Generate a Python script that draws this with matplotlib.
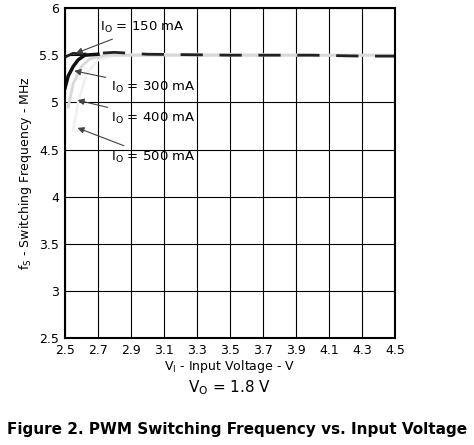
import matplotlib
matplotlib.use("Agg")
import matplotlib.pyplot as plt
import numpy as np

x150 = [2.5, 2.55, 2.6, 2.8, 3.0, 3.5, 4.0, 4.3, 4.5]
y150 = [5.48, 5.52, 5.51, 5.53, 5.51, 5.5, 5.5, 5.49, 5.49]
x300 = [2.5, 2.52, 2.55, 2.58, 2.62, 2.7]
y300 = [5.15, 5.28, 5.38, 5.45, 5.5, 5.51]
x400 = [2.52, 2.55, 2.6, 2.65, 2.75, 3.0, 3.5, 4.0, 4.5]
y400 = [4.95, 5.2, 5.38, 5.46, 5.5, 5.5, 5.5, 5.5, 5.5]
x500 = [2.55, 2.58, 2.63, 2.7, 2.8, 3.0, 3.5, 4.0, 4.5]
y500 = [4.7, 5.0, 5.3, 5.45, 5.5, 5.51, 5.51, 5.5, 5.5]
xticks = [2.5, 2.7, 2.9, 3.1, 3.3, 3.5, 3.7, 3.9, 4.1, 4.3, 4.5]
yticks = [2.5, 3, 3.5, 4, 4.5, 5, 5.5, 6]

fig = plt.figure(figsize=(4.74, 4.45), dpi=100)
ax = fig.add_axes([0.137, 0.240, 0.696, 0.742])
ax.set_xlim(2.5, 4.5); ax.set_ylim(2.5, 6)
ax.set_xticks(xticks); ax.set_yticks(yticks)
ax.set_xticklabels([f"{t:.1f}" for t in xticks], fontsize=9)
ax.set_yticklabels([f"{t:g}" for t in yticks], fontsize=9)
ax.grid(True, color="black", lw=0.8)
for s in ax.spines.values(): s.set_linewidth(1.5)
ax.tick_params(length=0, pad=4)
ax.plot(x500, y500, color="#f0f0f0", lw=2)
ax.plot(x400, y400, color="#d8d8d8", lw=2)
ax.plot(x150, y150, color="#222222", lw=2, dashes=(8, 6))
ax.plot(x300, y300, color="#111111", lw=2.5)
ap = dict(arrowstyle="-|>", color="#444444", lw=0.8)
ax.annotate("I$_\\mathrm{O}$ = 150 mA", xy=(2.55, 5.51), xytext=(2.71, 5.79), fontsize=9.5, arrowprops=ap, va="center")
ax.annotate("I$_\\mathrm{O}$ = 300 mA", xy=(2.54, 5.34), xytext=(2.78, 5.16), fontsize=9.5, arrowprops=ap, va="center")
ax.annotate("I$_\\mathrm{O}$ = 400 mA", xy=(2.56, 5.03), xytext=(2.78, 4.83), fontsize=9.5, arrowprops=ap, va="center")
ax.annotate("I$_\\mathrm{O}$ = 500 mA", xy=(2.56, 4.74), xytext=(2.78, 4.42), fontsize=9.5, arrowprops=ap, va="center")
ax.set_xlabel("V$_\\mathrm{I}$ - Input Voltage - V", fontsize=9, labelpad=1)
ax.set_ylabel("f$_\\mathrm{S}$ - Switching Frequency - MHz", fontsize=9)
fig.text(0.485, 0.128, "V$_\\mathrm{O}$ = 1.8 V", ha="center", va="center", fontsize=11)
fig.text(0.5, 0.035, "Figure 2. PWM Switching Frequency vs. Input Voltage", ha="center", va="center", fontsize=11, fontweight="bold")
fig.savefig("out.png", dpi=100)
